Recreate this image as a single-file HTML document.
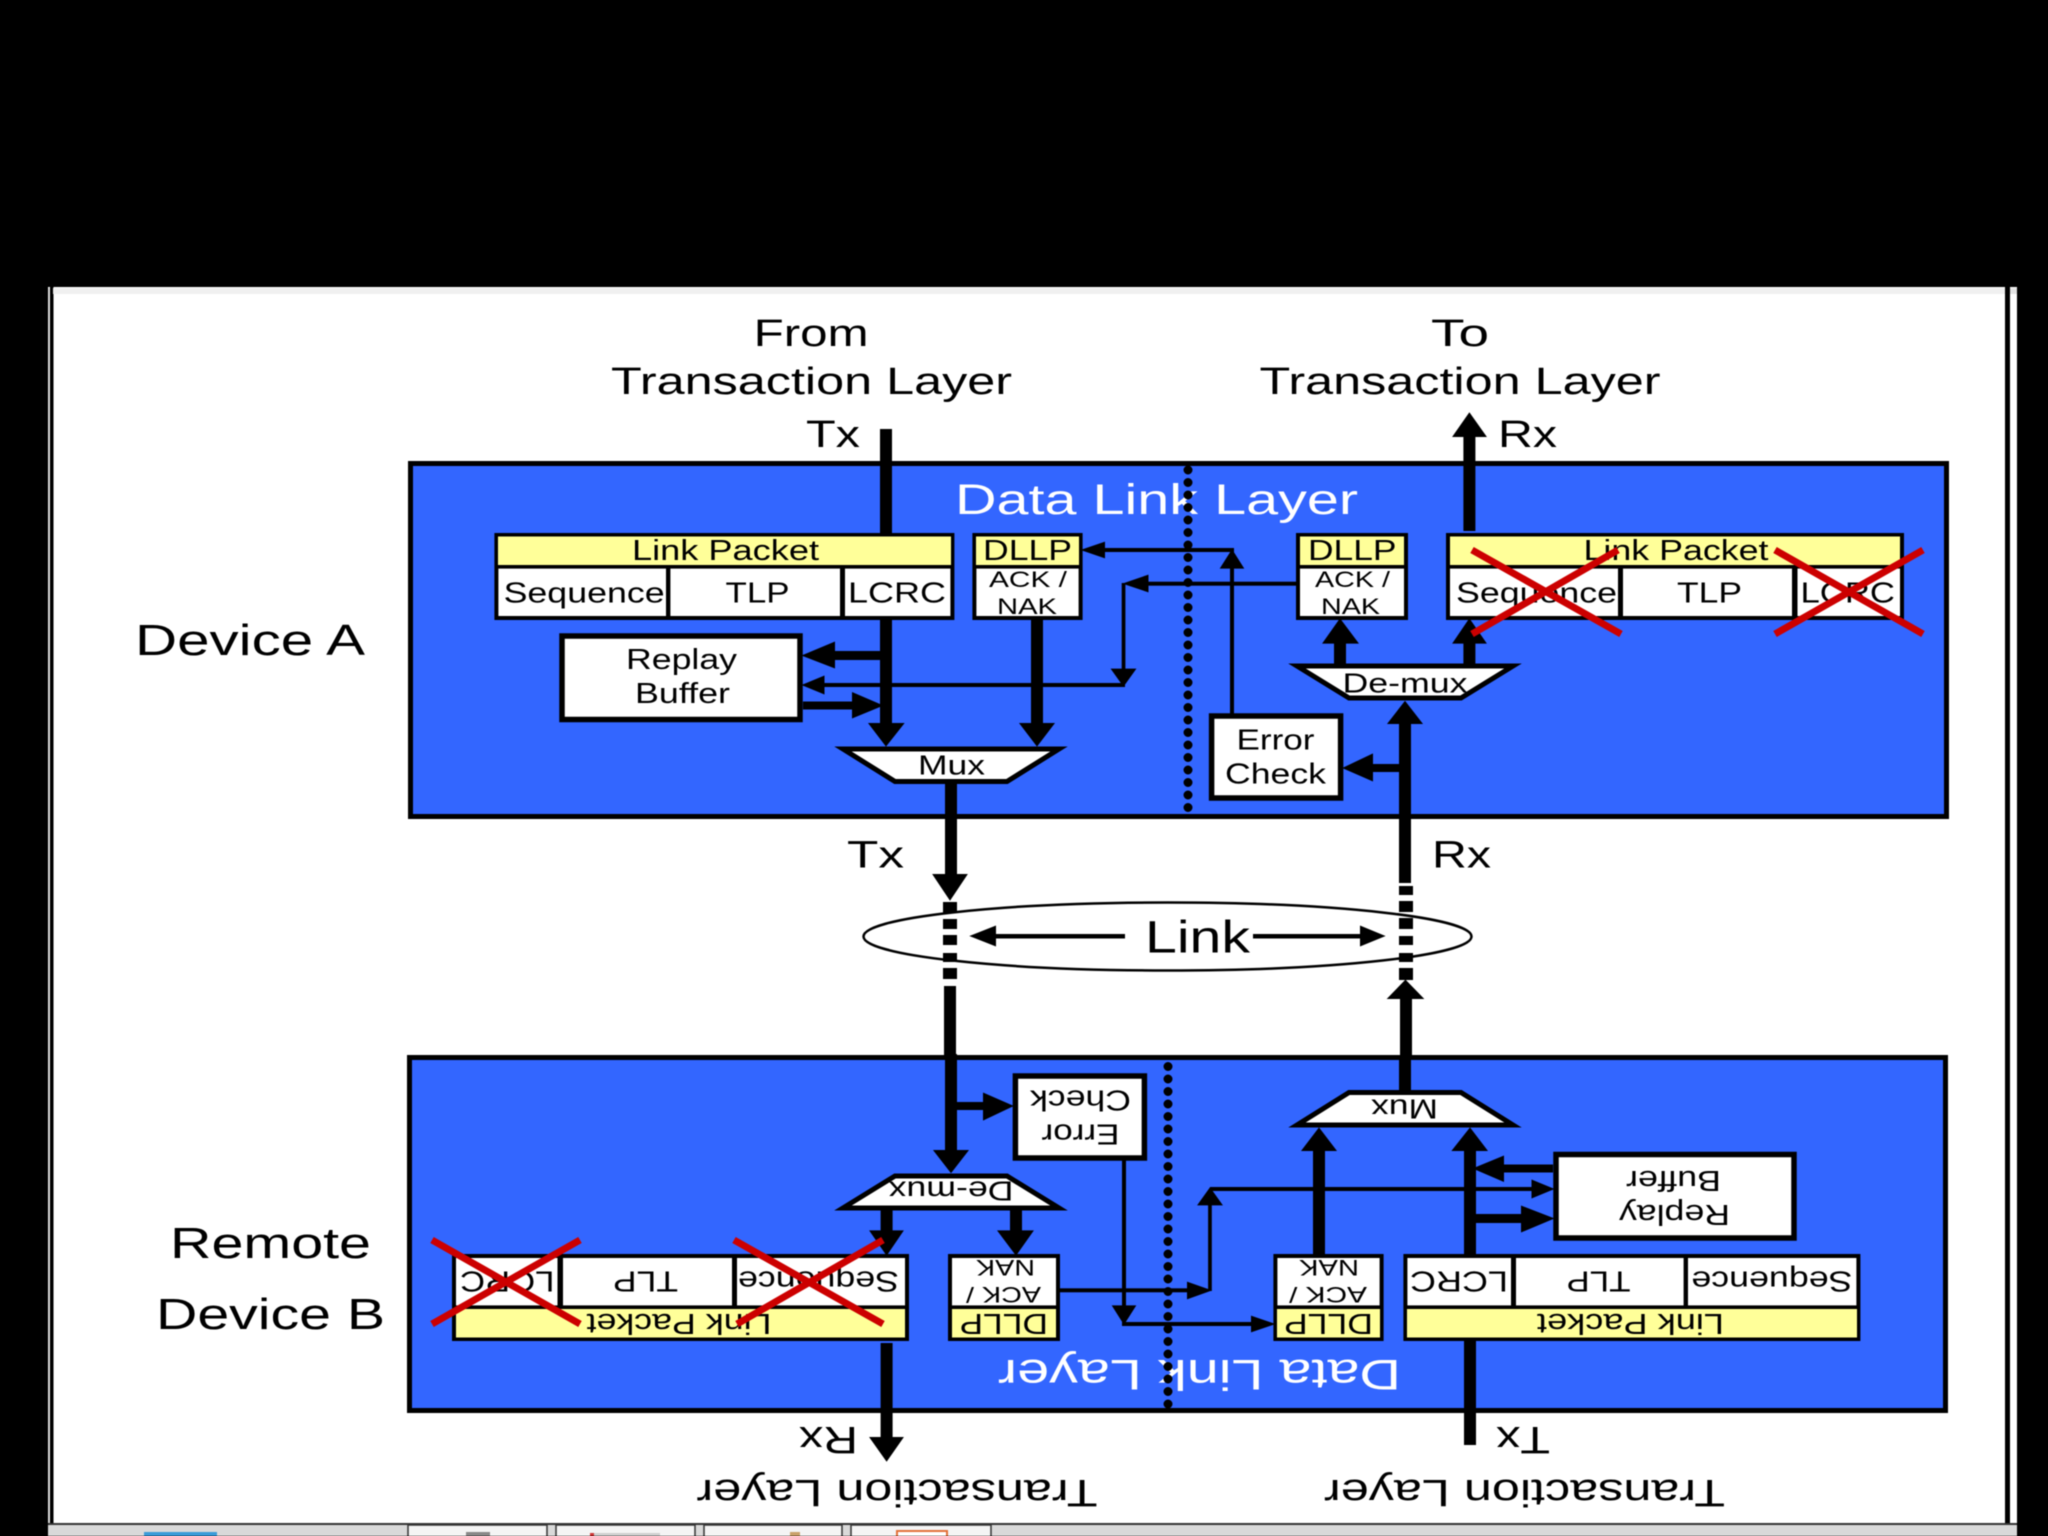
<!DOCTYPE html>
<html>
<head>
<meta charset="utf-8">
<style>
html,body{margin:0;padding:0;background:#000;width:2048px;height:1536px;overflow:hidden}
svg{display:block;filter:blur(0.6px)}
text{font-family:"Liberation Sans",sans-serif;fill:#000}
.a{font-size:37.7px}
.b{font-size:29px}
.s{font-size:22.5px}
.w{font-size:43px;fill:#fff}
.k{fill:#000}
.k polygon{stroke:#000;stroke-width:2;stroke-linejoin:miter}
</style>
</head>
<body>
<svg xmlns="http://www.w3.org/2000/svg" width="2048" height="1536" viewBox="0 0 2048 1536">
<rect width="2048" height="1536" fill="#000"/>
<rect x="48" y="287" width="1969" height="1249" fill="#fff"/>
<rect x="48" y="288" width="2" height="1240" fill="#ddd"/>
<rect x="50" y="287" width="3.5" height="1240" fill="#000"/>
<rect x="2005" y="287" width="5" height="1240" fill="#000"/>
<rect x="53" y="288" width="1952" height="6" fill="#f0f0f0"/>
<rect x="2010" y="288" width="7" height="6" fill="#e4e4e4"/>

<!-- Link region -->
<ellipse cx="1167.5" cy="936.5" rx="304" ry="34" fill="none" stroke="#000" stroke-width="2.5"/>
<g class="k">
<polygon points="972,936 995,927 995,945"/>
<rect x="995" y="934" width="130" height="4.5"/>
<polygon points="1383,936 1361,927 1361,945"/>
<rect x="1253" y="934" width="108" height="4.5"/>
<rect x="945" y="783" width="12" height="92"/>
<polygon points="934,875 966,875 950,899"/>
<rect x="943" y="902" width="14" height="11"/>
<rect x="943" y="919" width="14" height="10"/>
<rect x="943" y="935" width="14" height="10"/>
<rect x="943" y="953" width="14" height="9"/>
<rect x="943" y="968" width="14" height="11"/>
<rect x="944" y="986" width="12" height="70"/>
<rect x="1399" y="700" width="12" height="183"/>
<rect x="1399" y="886" width="14" height="9"/>
<rect x="1399" y="901" width="14" height="11"/>
<rect x="1399" y="918" width="14" height="11"/>
<rect x="1399" y="936" width="14" height="9"/>
<rect x="1399" y="953" width="14" height="9"/>
<rect x="1399" y="968" width="14" height="12"/>
<polygon points="1405.5,981 1389,998 1422,998"/>
<rect x="1400" y="999" width="12" height="60"/>
</g>
<text x="1145" y="952.7" style="font-size:45.6px" textLength="105" lengthAdjust="spacingAndGlyphs">Link</text>
<text class="a" x="847" y="867.7" textLength="57" lengthAdjust="spacingAndGlyphs">Tx</text>
<text class="a" x="1432" y="867.7" textLength="59" lengthAdjust="spacingAndGlyphs">Rx</text>

<!-- Device labels -->
<text x="135" y="655" style="font-size:44px" textLength="230" lengthAdjust="spacingAndGlyphs">Device A</text>
<text x="170" y="1258" style="font-size:44px" textLength="201" lengthAdjust="spacingAndGlyphs">Remote</text>
<text x="156" y="1329" style="font-size:44px" textLength="229" lengthAdjust="spacingAndGlyphs">Device B</text>

<!-- Device A -->
<text class="a" x="753.6" y="346" textLength="115" lengthAdjust="spacingAndGlyphs">From</text>
<text class="a" x="1431" y="346" textLength="58" lengthAdjust="spacingAndGlyphs">To</text>

<g>
<text class="a" x="611" y="394" textLength="401" lengthAdjust="spacingAndGlyphs">Transaction Layer</text>
<text class="a" x="1259.5" y="394" textLength="401" lengthAdjust="spacingAndGlyphs">Transaction Layer</text>
<text class="a" x="806" y="447" textLength="54" lengthAdjust="spacingAndGlyphs">Tx</text>
<text class="a" x="1498" y="447" textLength="59" lengthAdjust="spacingAndGlyphs">Rx</text>
<rect x="410.5" y="463.5" width="1536" height="353" fill="#3366ff" stroke="#000" stroke-width="5"/>
<text class="w" x="955" y="514" textLength="403" lengthAdjust="spacingAndGlyphs">Data Link Layer</text>
<line x1="1188" y1="470" x2="1188" y2="812" stroke="#000" stroke-width="9" stroke-linecap="round" stroke-dasharray="0 12.5"/>
<g class="k">
<rect x="880" y="429" width="12" height="105"/>
<rect x="880" y="620" width="12" height="104"/>
<polygon points="870,724 902.6,724 886,745"/>
<rect x="1031" y="620" width="12" height="104"/>
<polygon points="1021,724 1053,724 1037,745"/>
<rect x="945" y="783" width="12" height="36"/>
<rect x="833" y="651" width="48" height="9"/>
<polygon points="804,655.5 834,643 834,667"/>
<rect x="823" y="683" width="302" height="4"/>
<polygon points="804,685 823.5,677 823.5,693"/>
<rect x="803" y="701.5" width="50" height="8"/>
<polygon points="881,705.5 853,693.5 853,717"/>
<rect x="1121.7" y="583" width="3.7" height="86"/>
<polygon points="1123.5,685 1112.5,669.6 1134.5,669.6"/>
<rect x="1147" y="581.7" width="150" height="4"/>
<polygon points="1125.5,583.6 1147.5,576 1147.5,591"/>
<rect x="1104" y="548" width="130" height="4"/>
<polygon points="1083.6,550 1104,543 1104,557"/>
<rect x="1230" y="565" width="4" height="150"/>
<polygon points="1232,551 1221.5,567.6 1242.5,567.6"/>
<rect x="1463.4" y="437" width="12" height="94"/>
<polygon points="1469.4,414 1454,436 1485,436"/>
<rect x="1334" y="640" width="12" height="24"/>
<polygon points="1340,620 1324,642.6 1357,642.6"/>
<rect x="1463.4" y="640" width="12" height="24"/>
<polygon points="1469.4,620 1454,642.6 1485,642.6"/>
<rect x="1399" y="722" width="12" height="98"/>
<polygon points="1405,702.4 1389,723 1421,723"/>
<rect x="1371" y="764" width="30" height="8"/>
<polygon points="1344.5,768 1372,755 1372,780"/>
</g>

<!-- Left Link Packet -->
<rect x="496.4" y="535" width="456" height="83" fill="#fff" stroke="#000" stroke-width="4"/>
<rect x="498" y="536.5" width="453" height="28.5" fill="#ffff99"/>
<rect x="498" y="565" width="453" height="3.6"/>
<rect x="666" y="566" width="4.4" height="52"/>
<rect x="840" y="566" width="5" height="52"/>
<text class="b" x="632" y="560" textLength="187" lengthAdjust="spacingAndGlyphs">Link Packet</text>
<text class="b" x="503.6" y="602.5" textLength="161" lengthAdjust="spacingAndGlyphs">Sequence</text>
<text class="b" x="725.5" y="602.5" textLength="64" lengthAdjust="spacingAndGlyphs">TLP</text>
<text class="b" x="848" y="602.5" textLength="98" lengthAdjust="spacingAndGlyphs">LCRC</text>

<!-- Left DLLP -->
<rect x="974.4" y="535" width="106.2" height="83" fill="#fff" stroke="#000" stroke-width="4"/>
<rect x="976" y="536.5" width="103" height="28.5" fill="#ffff99"/>
<rect x="976" y="565" width="103" height="3.6"/>
<text class="b" x="983" y="560" textLength="89" lengthAdjust="spacingAndGlyphs">DLLP</text>
<text class="s" x="989" y="587" textLength="78" lengthAdjust="spacingAndGlyphs">ACK /</text>
<text class="s" x="997" y="614" textLength="60" lengthAdjust="spacingAndGlyphs">NAK</text>

<!-- Replay -->
<rect x="562" y="636" width="238" height="83.5" fill="#fff" stroke="#000" stroke-width="5.5"/>
<text class="b" x="626" y="669" textLength="111" lengthAdjust="spacingAndGlyphs">Replay</text>
<text class="b" x="635" y="703" textLength="95" lengthAdjust="spacingAndGlyphs">Buffer</text>

<!-- Mux -->
<polygon points="843,749 1059,749 1007,781.5 895,781.5" fill="#fff" stroke="#000" stroke-width="5"/>
<text class="b" x="918" y="774.6" textLength="67" lengthAdjust="spacingAndGlyphs" style="font-size:28px">Mux</text>

<!-- Right DLLP -->
<rect x="1298" y="535" width="108" height="83" fill="#fff" stroke="#000" stroke-width="4"/>
<rect x="1300" y="536.5" width="104" height="28.5" fill="#ffff99"/>
<rect x="1300" y="565" width="104" height="3.6"/>
<text class="b" x="1308" y="560" textLength="88.5" lengthAdjust="spacingAndGlyphs">DLLP</text>
<text class="s" x="1315" y="587" textLength="75" lengthAdjust="spacingAndGlyphs">ACK /</text>
<text class="s" x="1321" y="614" textLength="59" lengthAdjust="spacingAndGlyphs">NAK</text>

<!-- Right Link Packet -->
<rect x="1448" y="535" width="454" height="83" fill="#fff" stroke="#000" stroke-width="4"/>
<rect x="1450" y="536.5" width="450" height="28.5" fill="#ffff99"/>
<rect x="1450" y="565" width="450" height="3.6"/>
<rect x="1618" y="566" width="5" height="52"/>
<rect x="1792" y="566" width="5.5" height="52"/>
<text class="b" x="1583.5" y="560" textLength="185" lengthAdjust="spacingAndGlyphs">Link Packet</text>
<text class="b" x="1456" y="602.5" textLength="161" lengthAdjust="spacingAndGlyphs">Sequence</text>
<text class="b" x="1677" y="602.5" textLength="65" lengthAdjust="spacingAndGlyphs">TLP</text>
<text class="b" x="1800.5" y="602.5" textLength="94.5" lengthAdjust="spacingAndGlyphs">LCRC</text>

<!-- De-mux -->
<polygon points="1297,666 1513,666 1461,698 1349,698" fill="#fff" stroke="#000" stroke-width="5"/>
<text class="b" x="1342.5" y="692.5" textLength="125" lengthAdjust="spacingAndGlyphs" style="font-size:28px">De-mux</text>

<!-- Error check -->
<rect x="1211.6" y="716" width="129" height="82" fill="#fff" stroke="#000" stroke-width="5.5"/>
<text class="b" x="1236.5" y="749.6" textLength="78" lengthAdjust="spacingAndGlyphs">Error</text>
<text class="b" x="1225" y="783.6" textLength="101" lengthAdjust="spacingAndGlyphs">Check</text>

<!-- Red crosses -->
<g stroke="#cc0000" stroke-width="7" fill="none">
<line x1="1472" y1="550" x2="1621" y2="634"/>
<line x1="1618" y1="550" x2="1472" y2="634"/>
<line x1="1775" y1="550" x2="1923" y2="634"/>
<line x1="1923" y1="550" x2="1775" y2="634"/>
</g>
</g>

<!-- Device B : rotated 180 degrees -->
<g transform="rotate(180 1178 937)">
<text class="a" x="631" y="394" textLength="401" lengthAdjust="spacingAndGlyphs">Transaction Layer</text>
<text class="a" x="1258.5" y="394" textLength="401" lengthAdjust="spacingAndGlyphs">Transaction Layer</text>
<text class="a" x="806" y="447" textLength="54" lengthAdjust="spacingAndGlyphs">Tx</text>
<text class="a" x="1498" y="447" textLength="59" lengthAdjust="spacingAndGlyphs">Rx</text>
<rect x="410.5" y="463.5" width="1536" height="353" fill="#3366ff" stroke="#000" stroke-width="5"/>
<text class="w" x="955" y="514" textLength="403" lengthAdjust="spacingAndGlyphs">Data Link Layer</text>
<line x1="1188" y1="470" x2="1188" y2="812" stroke="#000" stroke-width="9" stroke-linecap="round" stroke-dasharray="0 12.5"/>
<g class="k">
<rect x="880" y="429" width="12" height="105"/>
<rect x="880" y="620" width="12" height="104"/>
<polygon points="870,724 902.6,724 886,745"/>
<rect x="1031" y="620" width="12" height="104"/>
<polygon points="1021,724 1053,724 1037,745"/>
<rect x="945" y="783" width="12" height="36"/>
<rect x="833" y="651" width="48" height="9"/>
<polygon points="804,655.5 834,643 834,667"/>
<rect x="823" y="683" width="323" height="4"/>
<polygon points="804,685 823.5,677 823.5,693"/>
<rect x="803" y="701.5" width="50" height="8"/>
<polygon points="881,705.5 853,693.5 853,717"/>
<rect x="1144.2" y="583" width="3.7" height="86"/>
<polygon points="1146,685 1135,669.6 1157,669.6"/>
<rect x="1168" y="581.7" width="130" height="4"/>
<polygon points="1147,583.6 1168,576 1168,591"/>
<rect x="1104" y="548" width="130" height="4"/>
<polygon points="1083.6,550 1104,543 1104,557"/>
<rect x="1230" y="565" width="4" height="150"/>
<polygon points="1232,551 1221.5,567.6 1242.5,567.6"/>
<rect x="1463.4" y="437" width="12" height="94"/>
<polygon points="1469.4,414 1454,436 1485,436"/>
<rect x="1334" y="640" width="12" height="24"/>
<polygon points="1340,620 1324,642.6 1357,642.6"/>
<rect x="1463.4" y="640" width="12" height="24"/>
<polygon points="1469.4,620 1454,642.6 1485,642.6"/>
<rect x="1399" y="722" width="12" height="98"/>
<polygon points="1405,702.4 1389,723 1421,723"/>
<rect x="1371" y="764" width="30" height="8"/>
<polygon points="1344.5,768 1372,755 1372,780"/>
</g>

<rect x="497.6" y="535" width="453" height="83" fill="#fff" stroke="#000" stroke-width="4"/>
<rect x="499" y="536.5" width="450" height="28.5" fill="#ffff99"/>
<rect x="499" y="565" width="450" height="3.6"/>
<rect x="668" y="566" width="4.4" height="52"/>
<rect x="840" y="566" width="5" height="52"/>
<text class="b" x="632" y="560" textLength="187" lengthAdjust="spacingAndGlyphs">Link Packet</text>
<text class="b" x="503.6" y="602.5" textLength="161" lengthAdjust="spacingAndGlyphs">Sequence</text>
<text class="b" x="725.5" y="602.5" textLength="64" lengthAdjust="spacingAndGlyphs">TLP</text>
<text class="b" x="848" y="602.5" textLength="98" lengthAdjust="spacingAndGlyphs">LCRC</text>

<rect x="974.4" y="535" width="106.2" height="83" fill="#fff" stroke="#000" stroke-width="4"/>
<rect x="976" y="536.5" width="103" height="28.5" fill="#ffff99"/>
<rect x="976" y="565" width="103" height="3.6"/>
<text class="b" x="983" y="560" textLength="89" lengthAdjust="spacingAndGlyphs">DLLP</text>
<text class="s" x="989" y="587" textLength="78" lengthAdjust="spacingAndGlyphs">ACK /</text>
<text class="s" x="997" y="614" textLength="60" lengthAdjust="spacingAndGlyphs">NAK</text>

<rect x="562" y="636" width="238" height="83.5" fill="#fff" stroke="#000" stroke-width="5.5"/>
<text class="b" x="626" y="669" textLength="111" lengthAdjust="spacingAndGlyphs">Replay</text>
<text class="b" x="635" y="703" textLength="95" lengthAdjust="spacingAndGlyphs">Buffer</text>

<polygon points="843,749 1059,749 1007,781.5 895,781.5" fill="#fff" stroke="#000" stroke-width="5"/>
<text class="b" x="918" y="774.6" textLength="67" lengthAdjust="spacingAndGlyphs" style="font-size:28px">Mux</text>

<rect x="1298" y="535" width="108" height="83" fill="#fff" stroke="#000" stroke-width="4"/>
<rect x="1300" y="536.5" width="104" height="28.5" fill="#ffff99"/>
<rect x="1300" y="565" width="104" height="3.6"/>
<text class="b" x="1308" y="560" textLength="88.5" lengthAdjust="spacingAndGlyphs">DLLP</text>
<text class="s" x="1315" y="587" textLength="75" lengthAdjust="spacingAndGlyphs">ACK /</text>
<text class="s" x="1321" y="614" textLength="59" lengthAdjust="spacingAndGlyphs">NAK</text>

<rect x="1449" y="535" width="453" height="83" fill="#fff" stroke="#000" stroke-width="4"/>
<rect x="1451" y="536.5" width="449" height="28.5" fill="#ffff99"/>
<rect x="1451" y="565" width="449" height="3.6"/>
<rect x="1619" y="566" width="5" height="52"/>
<rect x="1793" y="566" width="5.5" height="52"/>
<text class="b" x="1584.5" y="560" textLength="185" lengthAdjust="spacingAndGlyphs">Link Packet</text>
<text class="b" x="1457" y="602.5" textLength="161" lengthAdjust="spacingAndGlyphs">Sequence</text>
<text class="b" x="1678" y="602.5" textLength="65" lengthAdjust="spacingAndGlyphs">TLP</text>
<text class="b" x="1801.5" y="602.5" textLength="94.5" lengthAdjust="spacingAndGlyphs">LCRC</text>

<polygon points="1297,666 1513,666 1461,698 1349,698" fill="#fff" stroke="#000" stroke-width="5"/>
<text class="b" x="1342.5" y="692.5" textLength="125" lengthAdjust="spacingAndGlyphs" style="font-size:28px">De-mux</text>

<rect x="1211.6" y="716" width="129" height="82" fill="#fff" stroke="#000" stroke-width="5.5"/>
<text class="b" x="1236.5" y="749.6" textLength="78" lengthAdjust="spacingAndGlyphs">Error</text>
<text class="b" x="1225" y="783.6" textLength="101" lengthAdjust="spacingAndGlyphs">Check</text>

<g stroke="#cc0000" stroke-width="7" fill="none">
<line x1="1473" y1="550" x2="1622" y2="634"/>
<line x1="1619" y1="550" x2="1473" y2="634"/>
<line x1="1776" y1="550" x2="1924" y2="634"/>
<line x1="1924" y1="550" x2="1776" y2="634"/>
</g>
</g>

<!-- Bottom task bar -->
<rect x="48" y="1524" width="1969" height="12" fill="#d9d9d9"/>
<rect x="48" y="1523" width="1969" height="2" fill="#333"/>
<g fill="#f4f4f4" stroke="#333" stroke-width="1.5">
<rect x="408" y="1525" width="139" height="14"/>
<rect x="556" y="1525" width="139" height="14"/>
<rect x="704" y="1525" width="138" height="14"/>
<rect x="851" y="1525" width="140" height="14"/>
</g>
<rect x="144" y="1532" width="73" height="6" fill="#3a9bd8"/>
<rect x="466" y="1532" width="24" height="6" fill="#888"/>
<rect x="590" y="1533" width="70" height="5" fill="#cfcfcf"/>
<rect x="590" y="1533" width="4" height="5" fill="#c33"/>
<rect x="790" y="1532" width="10" height="6" fill="#c9a06a"/>
<rect x="897" y="1531" width="50" height="7" fill="#fff" stroke="#e2703a" stroke-width="2"/>
</svg>
</body>
</html>
